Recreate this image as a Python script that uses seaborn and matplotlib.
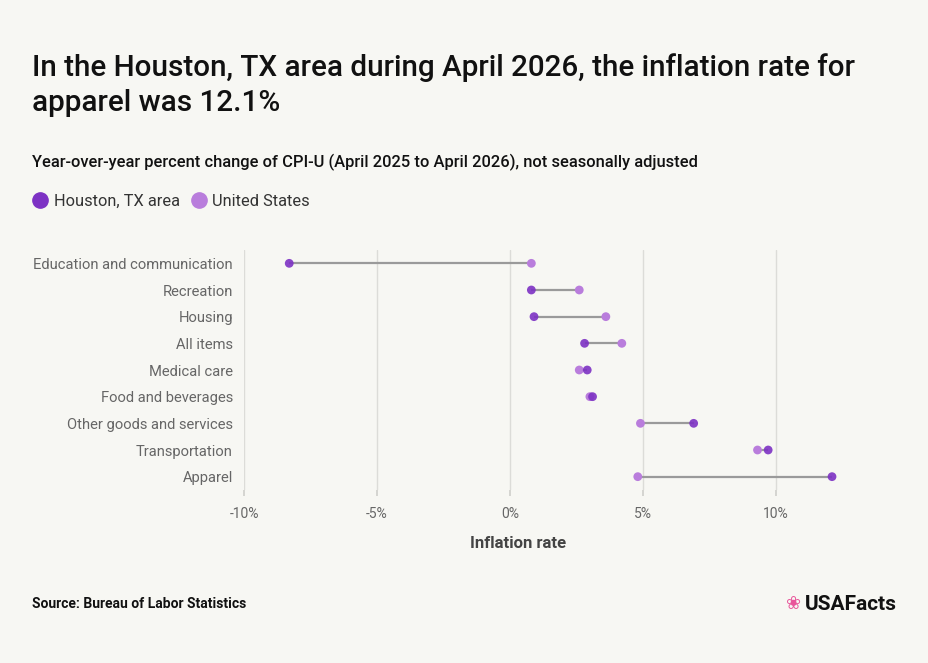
import matplotlib
matplotlib.use("Agg")
import matplotlib.pyplot as plt
import seaborn as sns
import pandas as pd
from matplotlib.lines import Line2D
from matplotlib.ticker import FuncFormatter

categories = ["Education and communication", "Recreation", "Housing", "All items",
              "Medical care", "Food and beverages", "Other goods and services",
              "Transportation", "Apparel"]
houston = [-8.3, 0.8, 0.9, 2.8, 2.9, 3.1, 6.9, 9.7, 12.1]
united_states = [0.8, 2.6, 3.6, 4.2, 2.6, 3.0, 4.9, 9.3, 4.8]
x_ticks = [-10, -5, 0, 5, 10]

BG = "#f7f7f3"
C_HOU = "#7d32c4"
C_US = "#b97ddc"

sns.set_theme(style="white")
plt.rcParams["font.family"] = ["Roboto", "DejaVu Sans"]

fig = plt.figure(figsize=(9.29, 6.63), dpi=100, facecolor=BG)
ax = fig.add_axes([244 / 929, 1 - 490 / 663, (840 - 244) / 929, 240 / 663])
ax.set_facecolor(BG)

df = pd.DataFrame({"category": categories * 2,
                   "value": houston + united_states,
                   "series": ["Houston, TX area"] * len(categories) + ["United States"] * len(categories)})

ax.hlines(y=categories, xmin=houston, xmax=united_states, color="#9a9a9a", lw=1.6, zorder=2)
sns.scatterplot(data=df[df.series == "United States"], x="value", y="category", color=C_US,
                s=40, edgecolor="none", ax=ax, zorder=3, legend=False)
sns.scatterplot(data=df[df.series == "Houston, TX area"], x="value", y="category", color=C_HOU,
                s=40, edgecolor="none", ax=ax, zorder=4, legend=False, alpha=0.9)

ax.set_xlim(-10, 12.4)
ax.set_ylim(8.5, -0.5)
ax.set_xticks(x_ticks)
ax.xaxis.set_major_formatter(FuncFormatter(lambda v, p: f"{v:.0f}%"))
for x in x_ticks:
    ax.axvline(x, color="#dcdcd8", lw=1, zorder=0)
for s in ax.spines.values():
    s.set_visible(False)
ax.tick_params(axis="x", length=4, color="#d0d0cc", labelsize=10, labelcolor="#666666", pad=8, bottom=True)
ax.tick_params(axis="y", length=0, labelsize=10.6, labelcolor="#666666", pad=8)
ax.set_ylabel("")
ax.set_xlabel("")

fig.text(518 / 929, 1 - 544 / 663, "Inflation rate", ha="center", va="center",
         fontsize=12, fontweight="bold", color="#444444")

fig.text(32 / 929, 1 - 76 / 663, "In the Houston, TX area during April 2026, the inflation rate for",
         ha="left", va="baseline", fontsize=21.3, fontweight="medium", color="#111111")
fig.text(32 / 929, 1 - 111 / 663, "apparel was 12.1%",
         ha="left", va="baseline", fontsize=21.3, fontweight="medium", color="#111111")
fig.text(32 / 929, 1 - 162 / 663,
         "Year-over-year percent change of CPI-U (April 2025 to April 2026), not seasonally adjusted",
         ha="left", va="center", fontsize=11.9, fontweight="medium", color="#111111")

handles = [Line2D([], [], marker="o", ls="", color=C_HOU, markersize=11, label="Houston, TX area"),
           Line2D([], [], marker="o", ls="", color=C_US, markersize=11, label="United States")]
fig.legend(handles=handles, loc="center left", bbox_to_anchor=(24 / 929, 1 - 201 / 663), ncol=2,
           frameon=False, fontsize=11.8, handletextpad=-0.2, columnspacing=0.2, labelcolor="#333333",
           borderaxespad=0, borderpad=0)

fig.text(32 / 929, 1 - 604 / 663, "Source: Bureau of Labor Statistics", ha="left", va="center",
         fontsize=10, fontweight="bold", color="#111111")
fig.text(897 / 929, 1 - 605 / 663, "USAFacts", ha="right", va="center",
         fontsize=15, fontweight="bold", color="#111111")
fig.text(801 / 929, 1 - 604 / 663, "\u2740", ha="right", va="center", fontsize=13,
         color="#e8559a", family="DejaVu Sans")

fig.savefig("out.png", dpi=100, facecolor=BG)
